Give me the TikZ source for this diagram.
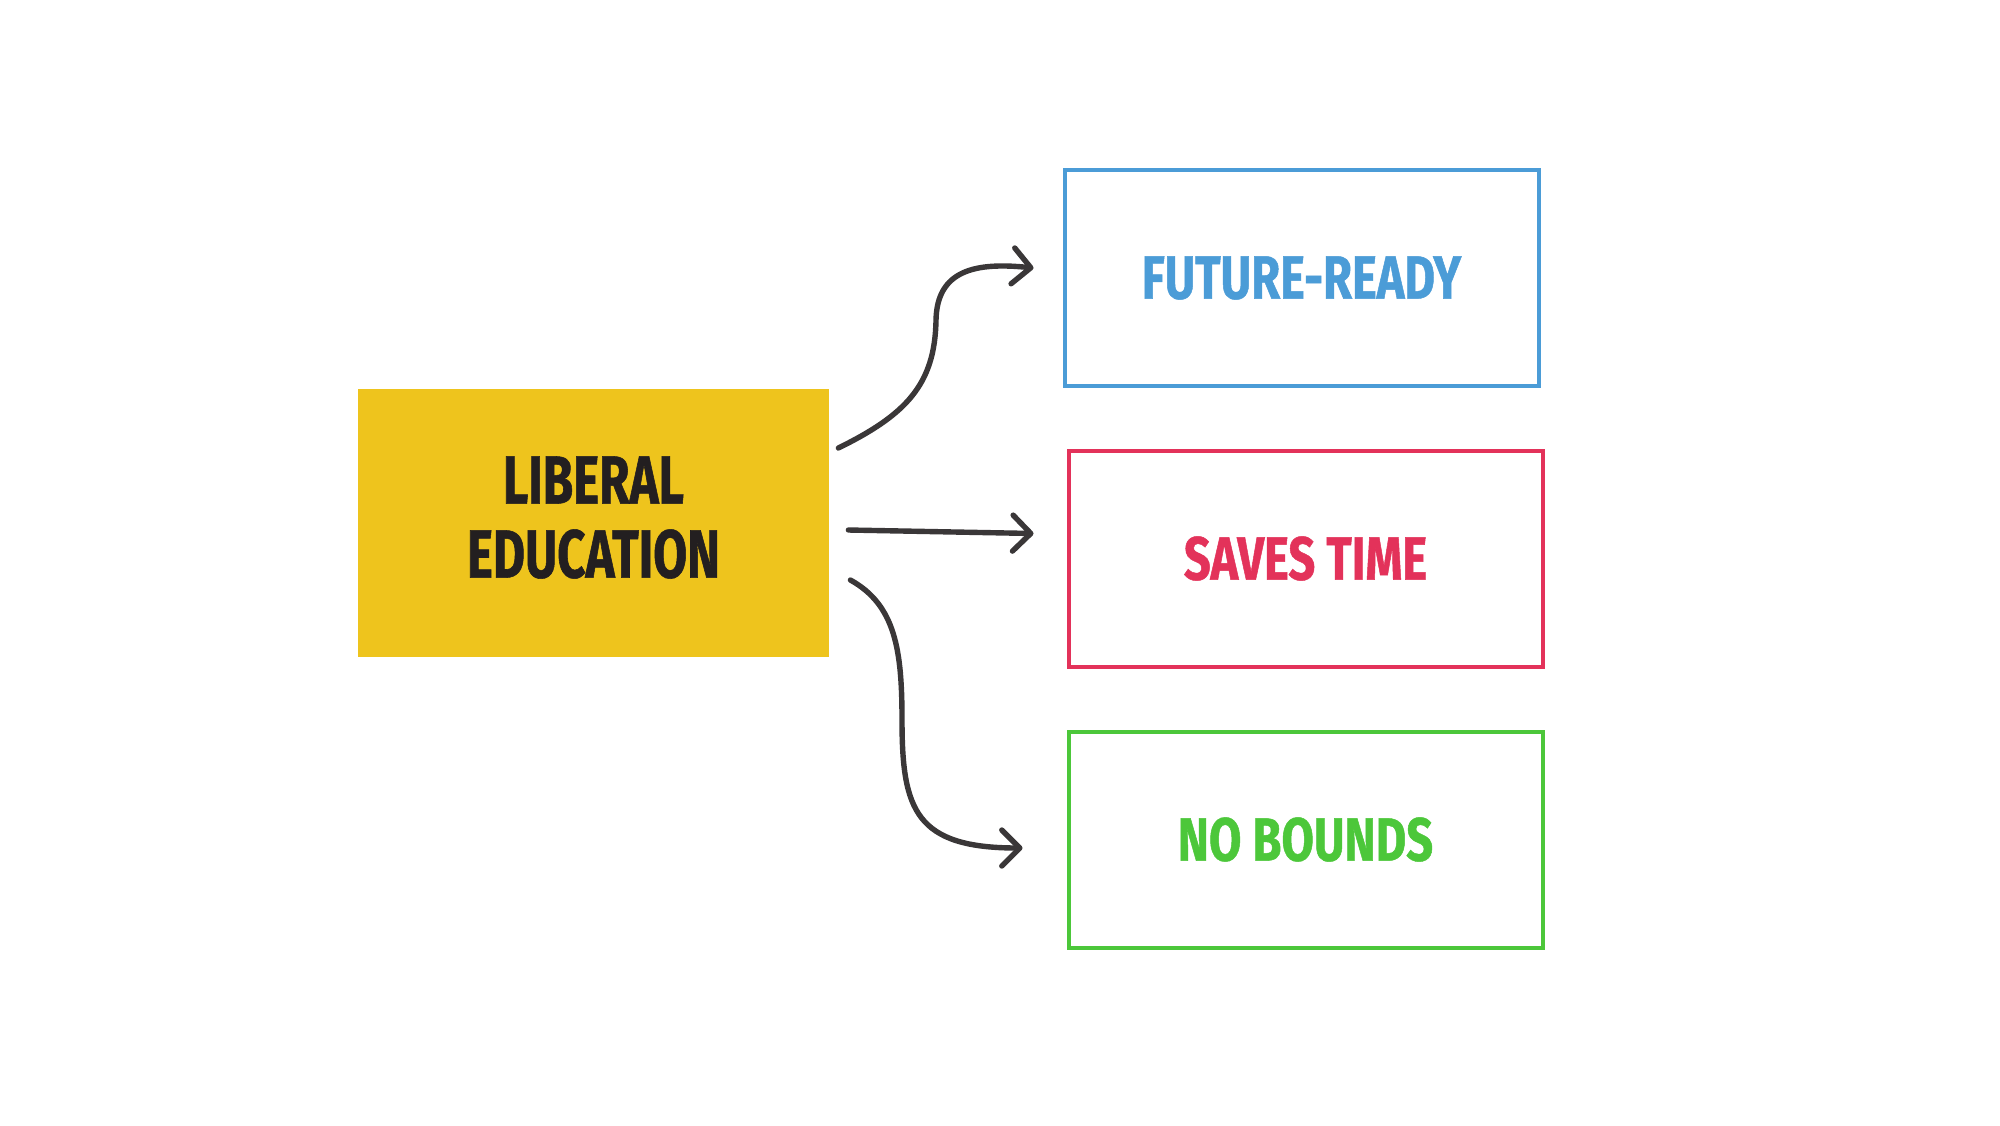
\documentclass[tikz,border=0pt]{standalone}
\usepackage{fontspec}
\newfontfamily\condfont{Fira Sans}[FakeStretch=0.725, BoldFeatures={FakeBold=0.8}]
\newfontfamily\condboxfont{Fira Sans}[FakeStretch=0.77, BoldFeatures={FakeBold=0.8}]
\usetikzlibrary{arrows.meta}
\definecolor{libyellow}{HTML}{EEC41D}
\definecolor{futblue}{HTML}{4B9CD7}
\definecolor{savred}{HTML}{E3325A}
\definecolor{nobgreen}{HTML}{4CC73A}
\definecolor{inkdark}{HTML}{231F20}
\definecolor{arrowgray}{HTML}{3A3738}
\tikzset{
  outbox/.style={draw, line width=2pt, inner sep=0pt, minimum width=237pt, minimum height=108pt,
    font=\condboxfont\bfseries\fontsize{30.5}{34}\selectfont},
  sketch/.style={draw=arrowgray, line width=2.7pt, line cap=round, line join=round,
    -{Straight Barb[length=9pt,width=18pt,round]}}
}
\begin{document}
\begin{tikzpicture}[x=0.5pt,y=-0.5pt]
\useasboundingbox (0,0) rectangle (2000,1125);
\fill[white] (0,0) rectangle (2000,1125);
\node[fill=libyellow, inner sep=0pt, minimum width=235.5pt, minimum height=134pt,
  text=inkdark, align=center, text depth=6pt, font=\condfont\bfseries\fontsize{34}{37}\selectfont]
  (lib) at (593.5,523) {LIBERAL\\EDUCATION};
\node[outbox, draw=futblue, text=futblue] (fut) at (1301.5,278) {FUTURE-READY};
\node[outbox, draw=savred, text=savred] (sav) at (1305.5,558.5) {SAVES TIME};
\node[outbox, draw=nobgreen, text=nobgreen] (nob) at (1305.5,839.5) {NO BOUNDS};
\draw[sketch] ([shift={(9,-75)}]lib.east) .. controls +(67,-33) and +(-1,65) .. (936,320)
  .. controls +(1,-50) and +(-58,-6) .. ([shift={(-29,-10)}]fut.west);
\draw[sketch] ([shift={(19,7)}]lib.east) -- ([shift={(-33,-25)}]sav.west);
\draw[sketch] ([shift={(21,57)}]lib.east) .. controls +(45,25) and +(0,-70) .. (902,720)
  .. controls +(0,90) and +(-107,0) .. ([shift={(-44,8.5)}]nob.west);
\end{tikzpicture}
\end{document}
